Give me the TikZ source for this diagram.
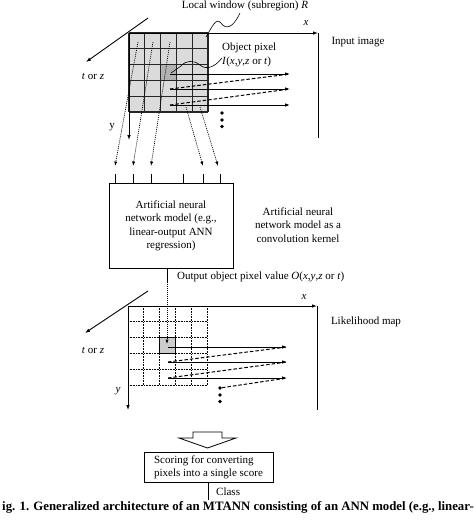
\documentclass[tikz,border=0pt]{standalone}
\usepackage{fontspec}
\setmainfont{Liberation Serif}
\usetikzlibrary{arrows.meta}
\begin{document}
\begin{tikzpicture}[x=1pt,y=-1pt,
  every node/.style={font=\fontsize{11}{13.3}\selectfont, inner sep=0pt},
  tip/.style={-{Latex[length=5pt,width=3.6pt]}},
  axis/.style={line width=0.9pt},
  scan/.style={line width=1pt,-{Latex[length=5pt,width=3.6pt]}},
  ret/.style={line width=1pt,dash pattern=on 3.5pt off 2pt},
  feed/.style={line width=0.7pt,dash pattern=on 1pt off 1pt,-{Latex[length=4.5pt,width=3.2pt]}},
  gridline/.style={line width=1.1pt,black!85},
  dotgrid/.style={line width=0.7pt,dash pattern=on 0.8pt off 0.8pt},
  box/.style={draw,line width=0.9pt},
  squig/.style={line width=0.6pt},
  dot/.style={circle,fill,minimum size=3.6pt,inner sep=0pt}
]
\useasboundingbox (0,0) rectangle (474,520);
\fill[white] (0,0) rectangle (474,520);

% ---------- input image ----------
\fill[gray!28] (129,33) rectangle (208,112);
\fill[gray!60] (160.6,64.6) rectangle (176.4,80.4);
\foreach \i in {0,...,5}{
  \draw[gridline] ({129+15.8*\i},33) -- ({129+15.8*\i},112);
  \draw[gridline] (129,{33+15.8*\i}) -- (208,{33+15.8*\i});
}
\coordinate (o1) at (129,33);
\coordinate (x1) at (318,33);
\coordinate (x1e) at (318,138);
\coordinate (y1) at (129,140);
\coordinate (t1s) at (148,18);
\coordinate (t1) at (86,62);
\draw[axis,tip] (o1) -- (x1);
\draw[axis] (x1) -- (x1e);
\draw[axis,tip] (o1) -- (y1);
\draw[axis,tip] (t1s) -- (t1);

\node (lw) at (245,6) {Local window (subregion) \textit{R}};
\node (xl1) at (306,23) {\textit{x}};
\node (yl1) at (112,127) {y};
\node (tz1) at (93,76) {\textit{t} or \textit{z}};
\node (inp) at (358,42) {Input image};
\node[anchor=west,align=left] (obj) at (222,55) {Object pixel\\\textit{I}(\textit{x},\textit{y},\textit{z} or \textit{t})};

\draw[squig] (240,13) .. controls (233,28) and (226,30) .. (221,23) .. controls (216,17) and (212,27) .. (206,37);
\draw[squig] (222,58) .. controls (214,68) and (206,70) .. (200,65) .. controls (194,60) and (186,60) .. (181,66) -- (171,73);

% scan arrows (input)
\foreach \y in {74,89,105}{ \draw[scan] (170,\y) -- (290,\y); }
\draw[ret] (170,89) -- (290,74);
\draw[ret] (170,105) -- (290,89);
\node[dot] (d1) at (222,113) {};
\node[dot] (d2) at (222,120) {};
\node[dot] (d3) at (222,126.5) {};

% ---------- ANN ----------
\node[box,minimum width=124pt,minimum height=85pt,align=center] (ann) at (171,225.7)
  {Artificial neural\\network model (e.g.,\\linear-output ANN\\regression)};
\foreach \x in {115,133,151,183,203,220}{ \draw[line width=0.9pt] (\x,174) -- (\x,183); }
\draw[feed] (138,42) -- (115,166);
\draw[feed] (153,42) -- (133,166);
\draw[feed] (170,42) -- (151,166);
\draw[feed] (186,107) -- (203,166);
\draw[feed] (200,107) -- (218,166);

\node[align=center] (conv) at (298,225) {Artificial neural\\network model as a\\convolution kernel};

\coordinate (ob) at (167,282);
\coordinate (oc) at (167,344);
\draw[line width=0.9pt] ([xshift=-4pt]ann.south) -- (ob);
\node[anchor=west] (outl) at (177,277) {Output object pixel value \textit{O}(\textit{x},\textit{y},\textit{z} or \textit{t})};

% ---------- likelihood map ----------
\foreach \i in {1,...,5}{
  \draw[dotgrid] ({128+15.8*\i},306) -- ({128+15.8*\i},385);
  \draw[dotgrid] (128,{306+15.8*\i}) -- (207,{306+15.8*\i});
}
\draw[line width=1pt,fill=gray!40] (159.6,337.6) rectangle (175.4,353.4);
\draw[feed] (ob) -- (oc);
\coordinate (o2) at (128,306);
\coordinate (x2) at (317,306);
\coordinate (x2e) at (317,410);
\coordinate (y2) at (128,410);
\coordinate (t2s) at (148,291);
\coordinate (t2) at (85,333);
\draw[axis,tip] (o2) -- (x2);
\draw[axis] (x2) -- (x2e);
\draw[axis,tip] (o2) -- (y2);
\draw[axis,tip] (t2s) -- (t2);
\node (xl2) at (304,297) {\textit{x}};
\node (yl2) at (118,391) {\textit{y}};
\node (tz2) at (93,350) {\textit{t} or \textit{z}};
\node (lm) at (366,322) {Likelihood map};

\foreach \y in {347,362,378}{ \draw[scan] (168,\y) -- (287,\y); }
\draw[ret] (168,362) -- (287,347);
\draw[ret] (168,378) -- (287,362);
\node[dot] (e1) at (220,388) {};
\node[dot] (e2) at (220,395) {};
\node[dot] (e3) at (220,401.5) {};
\draw[ret] (e1) -- (287,378);

% ---------- scoring ----------
\draw[line width=0.8pt,fill=white] (193,432) -- (222,432) -- (222,438) -- (236,438) -- (207.5,448) -- (179,438) -- (193,438) -- cycle;
\node[box,minimum width=129pt,minimum height=30pt,align=left] (score) at (208.5,467.5)
  {Scoring for converting\\pixels into a single score};
\coordinate (cl) at (208.5,500);
\draw[line width=0.9pt] (score.south) -- (cl);
\node[anchor=west] (cls) at (216,492) {Class};

\node[anchor=base west,font=\bfseries\fontsize{12.8}{15}\selectfont] (cap) at (2,510)
  {ig. 1. Generalized architecture of an MTANN consisting of an ANN model (e.g., linear-};
\end{tikzpicture}
\end{document}
